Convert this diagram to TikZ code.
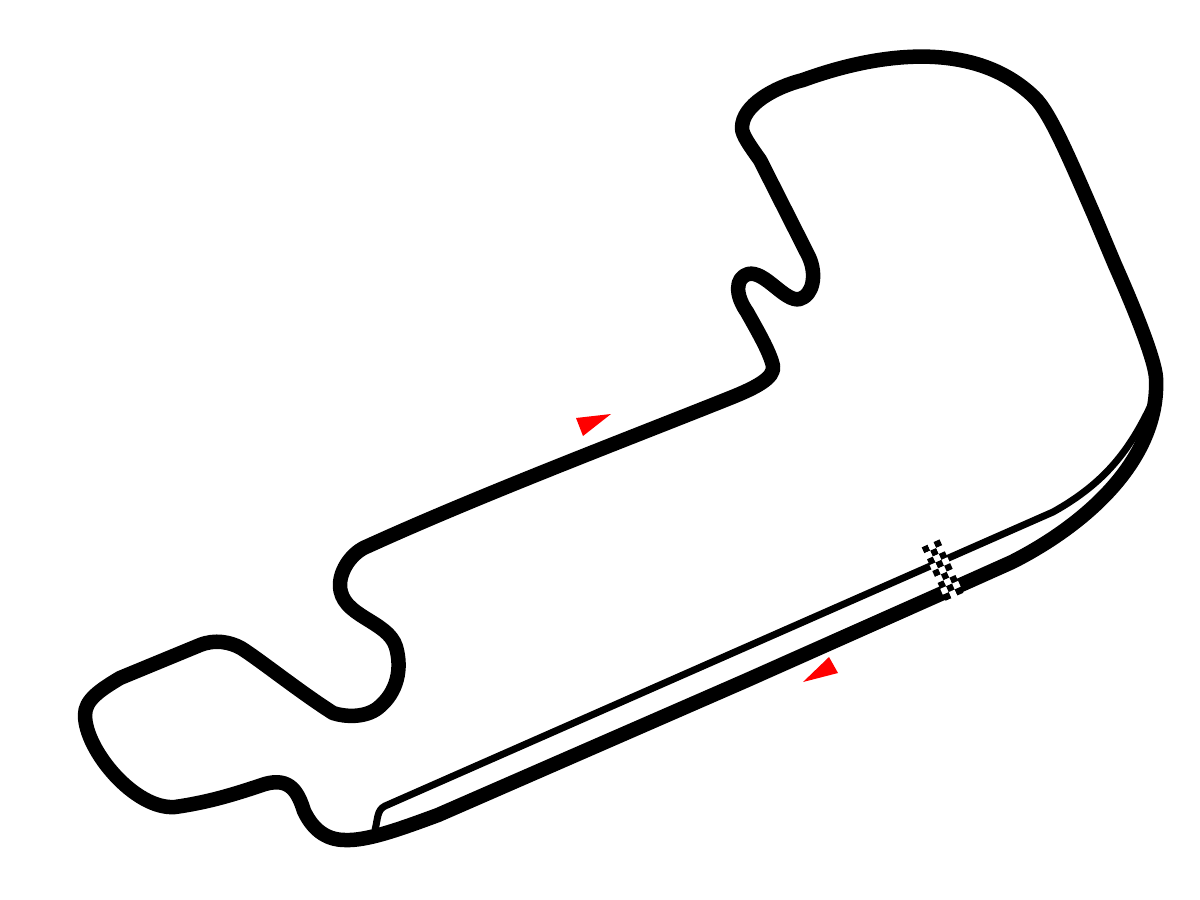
\documentclass[tikz,border=0pt]{standalone}
\tikzset{
  track/.style={line width=0.145cm,line join=round,line cap=round},
  pitlane/.style={line width=0.07cm,line join=round},
  flagcell/.style={minimum size=0.065cm,inner sep=0pt,outer sep=0pt,rotate=24}
}
\begin{document}
\begin{tikzpicture}[x=0.01cm,y=-0.01cm]
        \useasboundingbox (0,0) rectangle (1200,900);
        \draw [pitlane] (375,830) .. controls (378,818) and (377,810) .. (385,806) -- (1053,512)
          .. controls (1105,483) and (1130,450) .. (1152,403);
        \draw [track] (945,592) -- (745,681) -- (438,815)
          .. controls (400,829) and (367,841) .. (345,840)
          .. controls (325,840) and (312,828) .. (304,811)
          .. controls (298,792) and (290,777) .. (265,784)
          .. controls (235,794) and (210,802) .. (175,807)
          .. controls (135,810) and (85,750) .. (85,715)
          .. controls (85,700) and (100,690) .. (120,678)
          -- (200,645)
          .. controls (215,639) and (230,642) .. (241,648)
          .. controls (260,660) and (300,692) .. (333,713)
          .. controls (345,717) and (365,718) .. (378,708)
          .. controls (398,692) and (402,668) .. (396,647)
          .. controls (388,620) and (340,617) .. (340,585)
          .. controls (340,570) and (352,552) .. (368,546)
          .. controls (480,495) and (630,438) .. (730,398)
          .. controls (755,388) and (775,378) .. (773,366)
          .. controls (770,352) and (757,330) .. (747,312)
          .. controls (735,295) and (735,278) .. (748,274)
          .. controls (765,270) and (785,303) .. (800,299)
          .. controls (813,295) and (817,275) .. (809,257)
          -- (760,160)
          .. controls (750,146) and (742,135) .. (742,128)
          .. controls (742,105) and (775,87) .. (803,80)
          .. controls (880,52) and (975,40) .. (1034,97)
          .. controls (1050,112) and (1070,160) .. (1094,215)
          -- (1115,265)
          .. controls (1135,310) and (1155,360) .. (1156,378)
          .. controls (1160,460) and (1085,525) .. (1012,562)
          -- cycle;
        % start line
        \foreach \i in {0,1,2} {
          \foreach \j in {0,...,8} {
            \pgfmathtruncatemacro{\odd}{mod(\i+\j,2)}
            \ifnum\odd=0
              \node [flagcell,fill=black] (cell\i\j) at ({926+\i*5.93+\j*2.65},{549-\i*2.65+\j*5.93}) {};
            \else
              \node [flagcell,fill=white] (cell\i\j) at ({926+\i*5.93+\j*2.65},{549-\i*2.65+\j*5.93}) {};
            \fi
          }
        }
        \fill [red] (611,414) -- (576,418) -- (583,436) -- cycle;
        \fill [red] (838,673) -- (829,657) -- (803,682) -- cycle;
\end{tikzpicture}
\end{document}
